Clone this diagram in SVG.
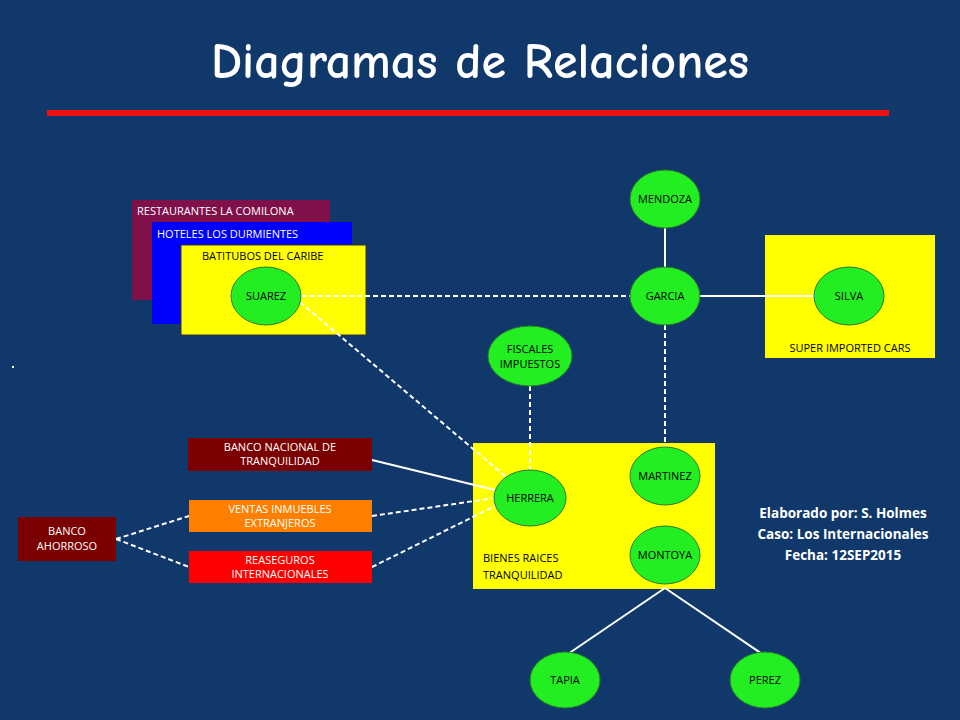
<svg xmlns="http://www.w3.org/2000/svg" width="960" height="720" viewBox="0 0 960 720">
<style>
.t{font-family:"Open Sans","DejaVu Sans",sans-serif;font-size:11px;text-anchor:middle}
.l{text-anchor:start}
.w{fill:#fff}.k{fill:#000}
.e{fill:#22ee22;stroke:#2a7a2a;stroke-width:1}
.s{stroke:#fff;stroke-width:2;fill:none}
.d{stroke:#fff;stroke-width:2;fill:none;stroke-dasharray:5 3}
.b{font-family:"Open Sans","DejaVu Sans",sans-serif;font-size:13.5px;font-weight:bold;fill:#fff;text-anchor:middle}
</style>
<rect width="960" height="720" fill="#11386a"/>
<text x="480" y="78" font-family="'Comic Neue','DejaVu Sans',sans-serif" font-size="50" font-weight="bold" fill="#fff" text-anchor="middle">Diagramas de Relaciones</text>
<rect x="47" y="110" width="842" height="6" fill="#ee1111"/>
<rect x="12" y="366" width="2" height="2" fill="#fff"/>
<g id="restaurantes"><rect x="132" y="200" width="198" height="100" fill="#80104a"/><text class="t w l" x="137" y="215">RESTAURANTES LA COMILONA</text></g>
<g id="hoteles"><rect x="152" y="222" width="200" height="102" fill="#0000ff"/><text class="t w l" x="157" y="238">HOTELES LOS DURMIENTES</text></g>
<g id="batitubos"><rect x="181" y="245" width="185" height="90" fill="#ffff00" stroke="#333"/><text class="t k l" x="202" y="260">BATITUBOS DEL CARIBE</text></g>
<g id="super"><rect x="765" y="235" width="170" height="123" fill="#ffff00"/><text class="t k" x="850" y="352">SUPER IMPORTED CARS</text></g>
<g id="bienes"><rect x="473" y="443" width="242" height="146" fill="#ffff00"/><text class="t k l" x="483" y="562">BIENES RAICES</text><text class="t k l" x="483" y="579">TRANQUILIDAD</text></g>
<g id="connectors">
<line class="d" x1="301" y1="296" x2="630" y2="296"/>
<line class="s" x1="700" y1="296" x2="814" y2="296"/>
<line class="s" x1="665" y1="228" x2="665" y2="267"/>
<line class="d" x1="665" y1="325" x2="665" y2="447"/>
<line class="d" x1="300" y1="302" x2="505" y2="476"/>
<line class="d" x1="530" y1="386" x2="530" y2="470"/>
<line class="s" x1="372" y1="460" x2="495" y2="490"/>
<line class="d" x1="372" y1="516" x2="495" y2="498"/>
<line class="d" x1="372" y1="567" x2="497" y2="505"/>
<line class="d" x1="116" y1="539" x2="189" y2="516"/>
<line class="d" x1="116" y1="539" x2="189" y2="567"/>
<line class="s" x1="665" y1="588" x2="565" y2="656"/>
<line class="s" x1="665" y1="588" x2="765" y2="656"/>
</g>
<g id="suarez"><ellipse class="e" cx="266" cy="296" rx="35" ry="29"/><text class="t k" x="266" y="300">SUAREZ</text></g>
<g id="mendoza"><ellipse class="e" cx="665" cy="199" rx="35" ry="29"/><text class="t k" x="665" y="203">MENDOZA</text></g>
<g id="garcia"><ellipse class="e" cx="665" cy="296" rx="35" ry="29"/><text class="t k" x="665" y="300">GARCIA</text></g>
<g id="silva"><ellipse class="e" cx="849" cy="296" rx="35" ry="29"/><text class="t k" x="849" y="300">SILVA</text></g>
<g id="fiscales"><ellipse class="e" cx="530" cy="356" rx="42" ry="30"/><text class="t k" x="530" y="353">FISCALES</text><text class="t k" x="530" y="368">IMPUESTOS</text></g>
<g id="herrera"><ellipse class="e" cx="530" cy="498" rx="36" ry="28"/><text class="t k" x="530" y="502">HERRERA</text></g>
<g id="martinez"><ellipse class="e" cx="665" cy="476" rx="35" ry="29"/><text class="t k" x="665" y="480">MARTINEZ</text></g>
<g id="montoya"><ellipse class="e" cx="665" cy="555" rx="35" ry="29"/><text class="t k" x="665" y="559">MONTOYA</text></g>
<g id="tapia"><ellipse class="e" cx="565" cy="680" rx="35" ry="28"/><text class="t k" x="565" y="684">TAPIA</text></g>
<g id="perez"><ellipse class="e" cx="765" cy="680" rx="35" ry="28"/><text class="t k" x="765" y="684">PEREZ</text></g>
<g id="banconacional"><rect x="188" y="438" width="184" height="33" fill="#7b0000"/><text class="t w" x="280" y="451">BANCO NACIONAL DE</text><text class="t w" x="280" y="465">TRANQUILIDAD</text></g>
<g id="ventas"><rect x="189" y="500" width="183" height="32" fill="#ff8000"/><text class="t w" x="280" y="513">VENTAS INMUEBLES</text><text class="t w" x="280" y="527">EXTRANJEROS</text></g>
<g id="reaseguros"><rect x="189" y="551" width="183" height="32" fill="#ff0000"/><text class="t w" x="280" y="564">REASEGUROS</text><text class="t w" x="280" y="578">INTERNACIONALES</text></g>
<g id="ahorroso"><rect x="18" y="517" width="98" height="44" fill="#7b0000"/><text class="t w" x="67" y="535">BANCO</text><text class="t w" x="67" y="550">AHORROSO</text></g>
<g id="credits"><text class="b" x="843" y="518">Elaborado por: S. Holmes</text><text class="b" x="843" y="539">Caso: Los Internacionales</text><text class="b" x="843" y="560">Fecha: 12SEP2015</text></g>
</svg>
